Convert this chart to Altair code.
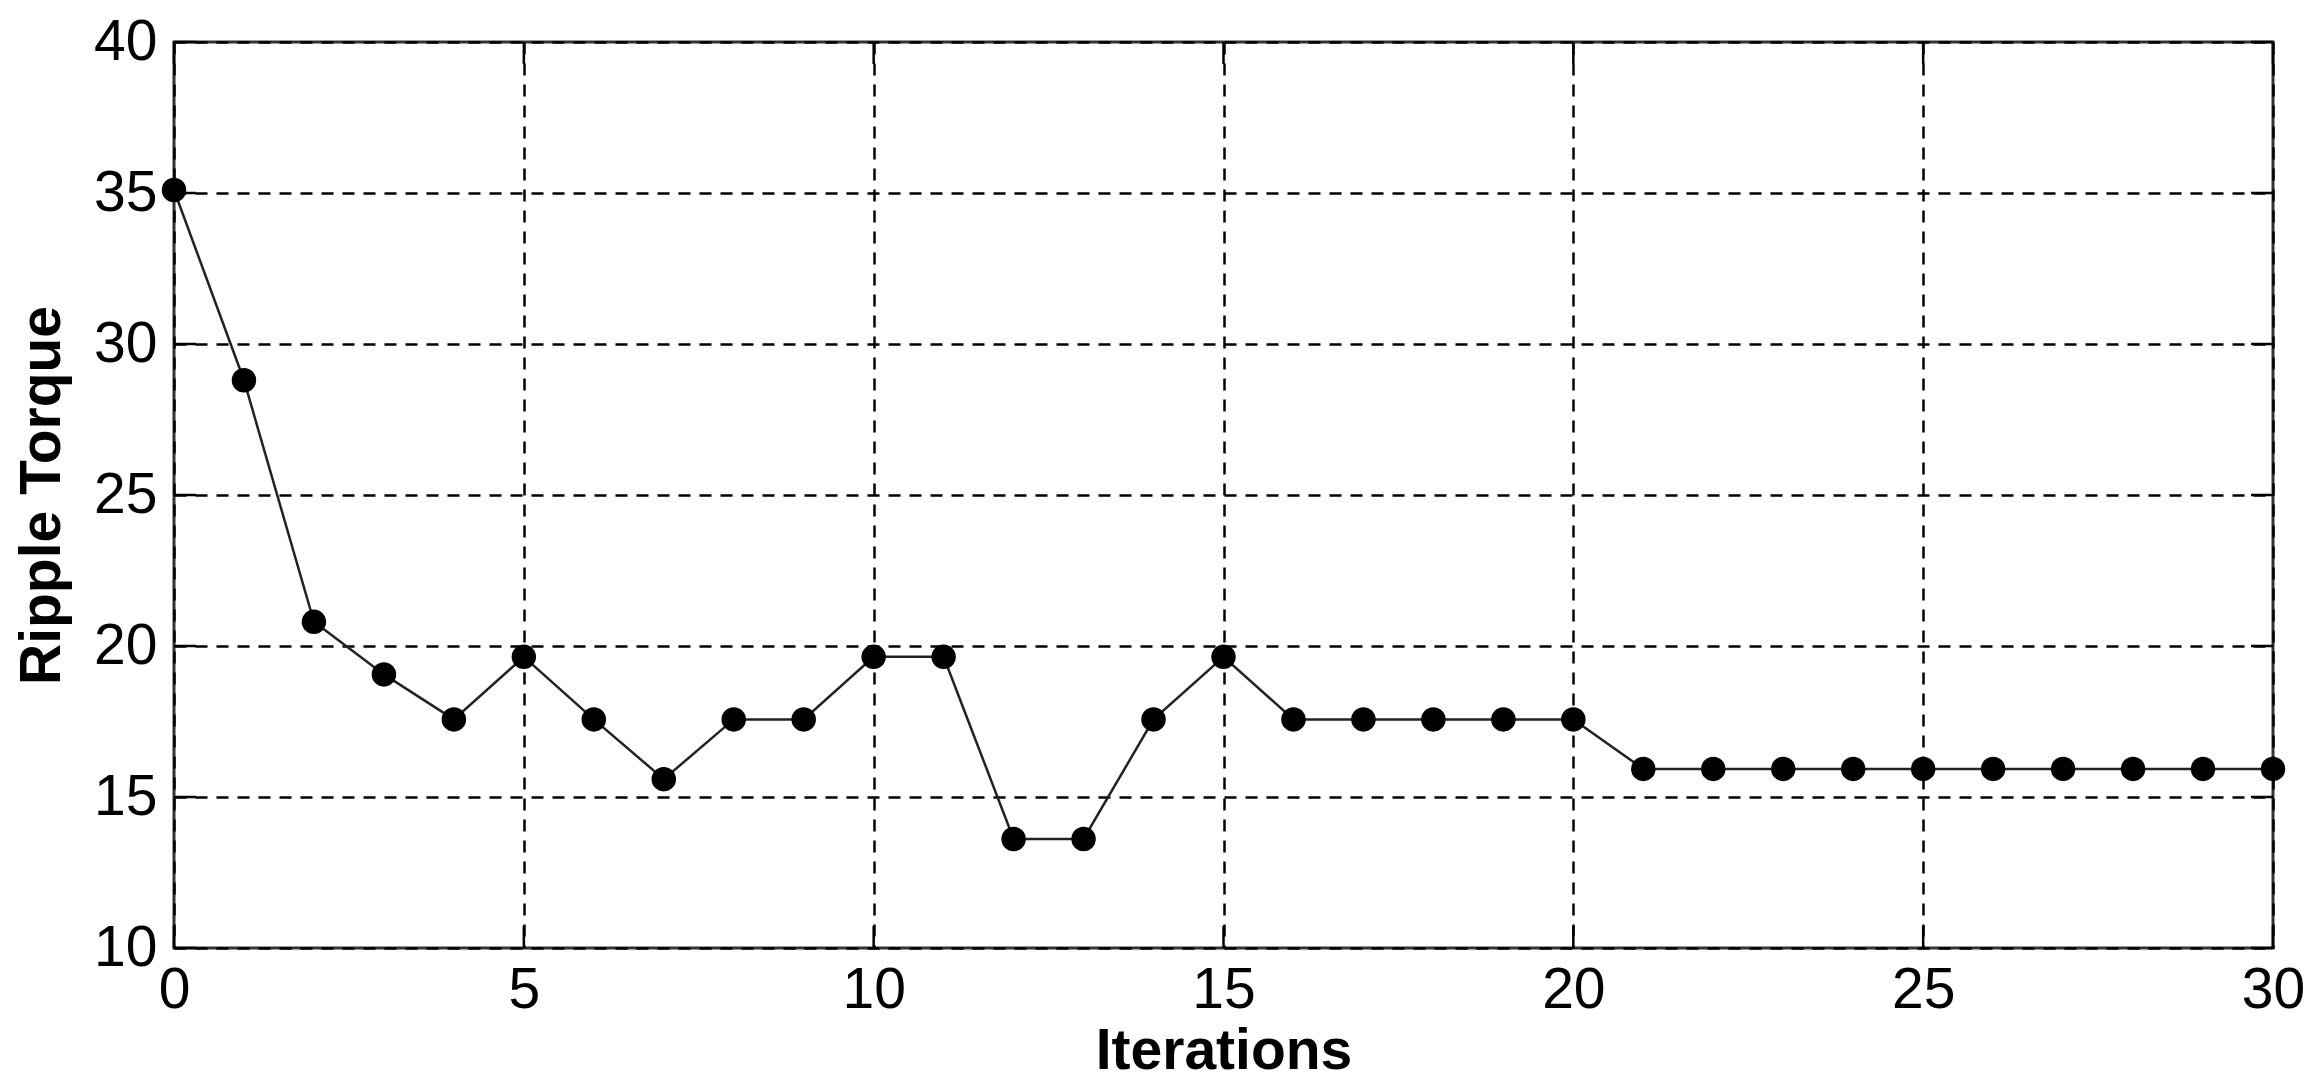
import altair as alt
import pandas as pd

iterations = list(range(31))
ripple_torque = [35.1, 28.8, 20.8, 19.06, 17.57, 19.64, 17.57, 15.59, 17.57, 17.57,
                 19.64, 19.64, 13.61, 13.61, 17.57, 19.64, 17.57, 17.57, 17.57, 17.57,
                 17.57, 15.93, 15.93, 15.93, 15.93, 15.93, 15.93, 15.93, 15.93, 15.93, 15.93]
x_ticks = [0, 5, 10, 15, 20, 25, 30]
y_ticks = [10, 15, 20, 25, 30, 35, 40]

W, H = 2099, 906
TL = 22
FONT = "Liberation Sans"
FS = 57

df = pd.DataFrame({"Iterations": iterations, "Ripple Torque": ripple_torque})
xt = pd.DataFrame({"xv": x_ticks})
yt = pd.DataFrame({"yv": y_ticks})

xscale = alt.Scale(domain=[0, 30], nice=False, zero=False)
yscale = alt.Scale(domain=[10, 40], nice=False, zero=False)

xaxis = alt.Axis(values=x_ticks, format="d", title="Iterations", labelFont=FONT, labelFontSize=FS,
                 labelColor="#000", labelPadding=14, labelFlush=False, labelOverlap=False,
                 ticks=False, domain=False, grid=True, gridDash=[12, 9], gridColor="#000",
                 gridWidth=2.5, gridOpacity=1, titleFont=FONT, titleFontSize=FS,
                 titleFontWeight="bold", titleColor="#000", titlePadding=5)
yaxis = alt.Axis(values=y_ticks, format="d", title="Ripple Torque", labelFont=FONT, labelFontSize=FS,
                 labelColor="#000", labelPadding=17, labelFlush=False, labelOverlap=False,
                 ticks=False, domain=False, grid=True, gridDash=[12, 9], gridColor="#000",
                 gridWidth=2.5, gridOpacity=1, titleFont=FONT, titleFontSize=FS,
                 titleFontWeight="bold", titleColor="#000", titlePadding=22)

base = alt.Chart(df)
line = base.mark_line(color="#222", strokeWidth=2.5).encode(
    x=alt.X("Iterations:Q", scale=xscale, axis=xaxis),
    y=alt.Y("Ripple Torque:Q", scale=yscale, axis=yaxis),
)
pts = base.mark_point(filled=True, shape="circle", size=600, color="#000", opacity=1).encode(
    x=alt.X("Iterations:Q", scale=xscale),
    y=alt.Y("Ripple Torque:Q", scale=yscale),
)

tick_style = dict(color="#000", strokeWidth=2.5)
left_ticks = alt.Chart(yt).mark_rule(**tick_style).encode(
    y=alt.Y("yv:Q", scale=yscale), x=alt.value(0), x2=alt.value(TL))
right_ticks = alt.Chart(yt).mark_rule(**tick_style).encode(
    y=alt.Y("yv:Q", scale=yscale), x=alt.value(W - TL), x2=alt.value(W))
bottom_ticks = alt.Chart(xt).mark_rule(**tick_style).encode(
    x=alt.X("xv:Q", scale=xscale), y=alt.value(H), y2=alt.value(H - TL))
top_ticks = alt.Chart(xt).mark_rule(**tick_style).encode(
    x=alt.X("xv:Q", scale=xscale), y=alt.value(0), y2=alt.value(TL))

chart = alt.layer(left_ticks, right_ticks, bottom_ticks, top_ticks, line, pts).properties(
    width=W, height=H,
    autosize=alt.AutoSizeParams(type="none"),
    padding={"left": 166, "top": 34, "right": 36, "bottom": 134},
    background="#ffffff",
).configure_view(stroke="#333", strokeWidth=3)

chart.save("out.html", embed_options={"renderer": "svg", "actions": False})
